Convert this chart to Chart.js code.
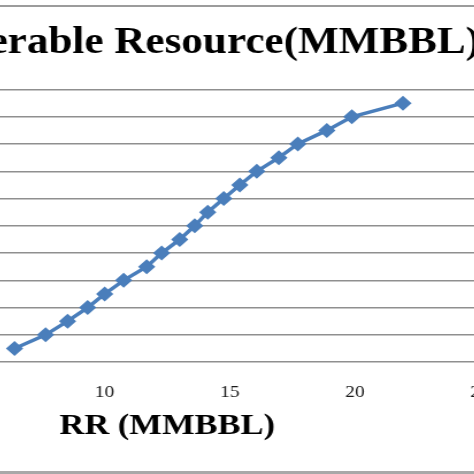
<!DOCTYPE html>
<html>
<head>
<meta charset="utf-8">
<title>Recoverable Resource</title>
<script src="https://cdn.jsdelivr.net/npm/chart.js@4.4.0/dist/chart.umd.min.js"></script>
<style>
    html, body { margin: 0; padding: 0; background: #fff; }
    #frame { position: relative; width: 474px; height: 474px; overflow: hidden; background: #fff; }
    #edgeTop { position: absolute; left: 0; top: 5px; width: 100%; height: 2px; background: #9c9c9c; }
    #edgeBottom { position: absolute; left: 0; bottom: 0; width: 100%; height: 3px; background: #a8a8a8; }
    /* the source picture is stretched sideways, so stretch the canvas the same way */
    #stretch { position: absolute; left: -279px; top: 0; transform: scaleX(1.15); transform-origin: 0 0; }
</style>
</head>
<body>
<div id="frame">
    <div id="stretch">
        <canvas id="rrChart" width="700" height="474"></canvas>
    </div>
    <div id="edgeTop"></div>
    <div id="edgeBottom"></div>
</div>
<script>
// Recoverable resource (MMBBL) against cumulative probability
const rrValues = [6.4, 7.64, 8.52, 9.32, 10.0, 10.76, 11.68, 12.28, 13.0, 13.6,
                  14.12, 14.76, 15.4, 16.08, 16.96, 17.72, 18.88, 19.88, 21.92];
const cumProb = [0.05, 0.10, 0.15, 0.20, 0.25, 0.30, 0.35, 0.40, 0.45, 0.50,
                 0.55, 0.60, 0.65, 0.70, 0.75, 0.80, 0.85, 0.90, 0.95];
const xTicks = [0, 5, 10, 15, 20, 25];

const serif = "'Liberation Serif', 'Times New Roman', 'DejaVu Serif', serif";
const lineBlue = '#4a7ebb';

const points = rrValues.map((rr, i) => ({ x: rr, y: cumProb[i] }));

const ctx = document.getElementById('rrChart').getContext('2d');
const rrChart = new Chart(ctx, {
    type: 'line',
    data: {
        datasets: [
            {
                label: 'RR',
                data: points,
                borderColor: lineBlue,
                backgroundColor: lineBlue,
                borderWidth: 3.5,
                tension: 0,
                fill: false,
                pointStyle: 'rectRot',
                pointRadius: 7.5,
                pointBorderWidth: 0,
                pointBackgroundColor: lineBlue
            }
        ]
    },
    options: {
        responsive: false,
        animation: false,
        layout: {
            padding: { left: 116, right: 40, top: 0, bottom: 0 }
        },
        plugins: {
            legend: { display: false },
            tooltip: { enabled: false },
            title: {
                display: true,
                text: 'Recoverable Resource(MMBBL)',
                align: 'end',
                color: '#000',
                font: { family: serif, size: 37.5, weight: 'bold' },
                padding: { top: 21, bottom: 23.5 }
            }
        },
        scales: {
            x: {
                type: 'linear',
                min: xTicks[0],
                max: xTicks[xTicks.length - 1],
                afterBuildTicks: (scale) => {
                    scale.ticks = xTicks.map(v => ({ value: v }));
                },
                ticks: {
                    color: '#1a1a1a',
                    font: { family: serif, size: 17 },
                    padding: 20
                },
                grid: { display: false, drawTicks: false },
                border: { display: false },
                title: {
                    display: true,
                    text: 'RR (MMBBL)',
                    color: '#000',
                    font: { family: serif, size: 30, weight: 'bold' },
                    padding: { top: -14.5, bottom: 30 }
                }
            },
            y: {
                min: 0,
                max: 1,
                ticks: { display: false, stepSize: 0.1 },
                grid: { color: '#8f8f8f', lineWidth: 1.5, drawTicks: false },
                border: { display: false },
                afterFit: (scale) => { scale.width = 0; }
            }
        }
    }
});
</script>
</body>
</html>
